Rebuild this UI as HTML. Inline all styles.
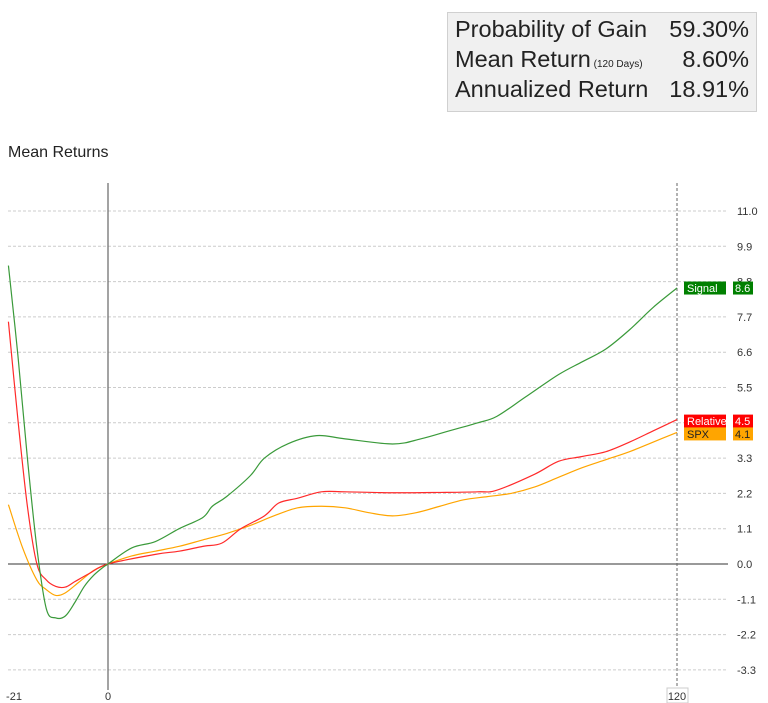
<!DOCTYPE html>
<html><head><meta charset="utf-8"><style>
body{margin:0;background:#fff;font-family:"Liberation Sans",sans-serif;}
#stats{position:absolute;left:447px;top:12px;width:308px;height:98px;background:#f0f0f0;border:1px solid #d0d0d0;color:#222;font-size:23.5px;}
.row{position:absolute;left:7px;right:7px;height:30px;}
.row .v{position:absolute;right:0;}
#title{position:absolute;left:8px;top:144px;font-size:16px;color:#222;}
</style></head><body>
<div id="stats">
 <div class="row" style="top:3px">Probability of Gain<span class="v">59.30%</span></div>
 <div class="row" style="top:33px">Mean Return<span style="font-size:10px"> (120 Days)</span><span class="v">8.60%</span></div>
 <div class="row" style="top:63px">Annualized Return<span class="v">18.91%</span></div>
</div>
<div id="title">Mean Returns</div>
<svg id="chart" width="768" height="703" style="position:absolute;left:0;top:0"></svg>
<script>
const yTicks=[11.0,9.9,8.8,7.7,6.6,5.5,4.4,3.3,2.2,1.1,0.0,-1.1,-2.2,-3.3];
const xTicks=[-21,0,120];
const sigDays=[-21,-19,-17,-15,-13,-11,-9,-7,-5,-3,-1,0,5,10,15,20,22,25,30,33,38,44,50,60,66,72,78,82,88,95,100,105,110,115,120];
const sigVals=[9.3,6.5,3.3,0.5,-1.4,-1.68,-1.62,-1.2,-0.7,-0.35,-0.1,0,0.5,0.7,1.1,1.45,1.8,2.1,2.75,3.3,3.75,4.0,3.9,3.74,3.9,4.15,4.4,4.6,5.2,5.9,6.3,6.7,7.3,8.0,8.6];
const relDays=[-21,-19,-17,-15,-13,-11,-9,-7,-4,0,10,15,20,24,28,33,36,40,45,50,60,70,78,82,90,95,100,105,110,115,120];
const relVals=[7.55,4.5,1.8,0,-0.5,-0.7,-0.72,-0.55,-0.3,0,0.3,0.4,0.55,0.65,1.1,1.5,1.9,2.05,2.25,2.25,2.22,2.23,2.25,2.3,2.8,3.2,3.35,3.5,3.8,4.15,4.5];
const spxDays=[-21,-18,-15,-13,-11,-9,-6,-3,0,5,10,15,20,25,30,35,40,45,50,55,60,65,70,75,80,85,90,95,100,105,110,115,120];
const spxVals=[1.85,0.5,-0.5,-0.8,-0.98,-0.9,-0.55,-0.2,0,0.25,0.4,0.55,0.75,0.95,1.2,1.5,1.75,1.8,1.75,1.6,1.5,1.6,1.8,2.0,2.1,2.2,2.4,2.7,3.0,3.25,3.5,3.8,4.1];
const NS='http://www.w3.org/2000/svg';
const svg=document.getElementById('chart');
const X=d=>108+d*569/120;
const Y=v=>564-v*32.09;
function mk(t,a,p){const e=document.createElementNS(NS,t);for(const k in a)e.setAttribute(k,a[k]);(p||svg).appendChild(e);return e;}
yTicks.forEach(v=>{
 if(v!==0){const g=mk('line',{x1:8,x2:728,y1:Y(v),y2:Y(v),stroke:'#ccc','stroke-dasharray':'3,2'});
 
 }
 const t=mk('text',{x:737,y:Y(v)+4,'font-size':11,fill:'#333'});t.textContent=v.toFixed(1);
 
 
});
const zl=mk('line',{x1:8,x2:728,y1:Y(0),y2:Y(0),stroke:'#333'});


const v0=mk('line',{x1:X(0),x2:X(0),y1:183,y2:690,stroke:'#666','stroke-width':1.2});


const v1=mk('line',{x1:X(120),x2:X(120),y1:183,y2:690,stroke:'#666','stroke-dasharray':'3,2'});


xTicks.forEach(d=>{
 if(d===120){const r=mk('rect',{x:X(d)-10,y:688,width:21,height:15,fill:'#fff',stroke:'#ccc'});
 
 }
 const t=mk('text',{x:Math.max(X(d),14),y:700,'font-size':11,fill:'#333','text-anchor':'middle'});t.textContent=d;
 
 
});
function path(days,vals){
 const p=days.map((d,i)=>[X(d),Y(vals[i])]);let s='M'+p[0][0]+','+p[0][1];
 for(let i=0;i<p.length-1;i++){const a=p[i-1]||p[i],b=p[i],c=p[i+1],e=p[i+2]||c;
  s+=' C'+(b[0]+(c[0]-a[0])/6)+','+(b[1]+(c[1]-a[1])/6)+' '+(c[0]-(e[0]-b[0])/6)+','+(c[1]-(e[1]-b[1])/6)+' '+c[0]+','+c[1];}
 return s;}
const series=[[spxDays,spxVals,'#ffa500','spx-line'],[relDays,relVals,'#ff2a2a','relative-line'],[sigDays,sigVals,'#3a9a3a','signal-line']];
series.forEach(s=>{const e=mk('path',{d:path(s[0],s[1]),fill:'none',stroke:s[2],'stroke-width':1.2});
 
 });
const tags=[['Signal',sigVals,'#008000','#fff','signal-tag',0],['Relative',relVals,'#ff0000','#fff','relative-tag',1.5],['SPX',spxVals,'#ffa500','#222','spx-tag',1.5]];
tags.forEach(t=>{const v=t[1][t[1].length-1];const cy=Y(v)+t[5];
 const g=mk('g',{});
 
 
 mk('rect',{x:684,y:cy-6.5,width:42,height:13,fill:t[2]},g);
 const a=mk('text',{x:687,y:cy+4,'font-size':11,fill:t[3]},g);a.textContent=t[0];
 mk('rect',{x:733,y:cy-6.5,width:20,height:13,fill:t[2]},g);
 const b=mk('text',{x:735,y:cy+4,'font-size':11,fill:t[3]},g);b.textContent=v.toFixed(1);
});
</script>
</body></html>
